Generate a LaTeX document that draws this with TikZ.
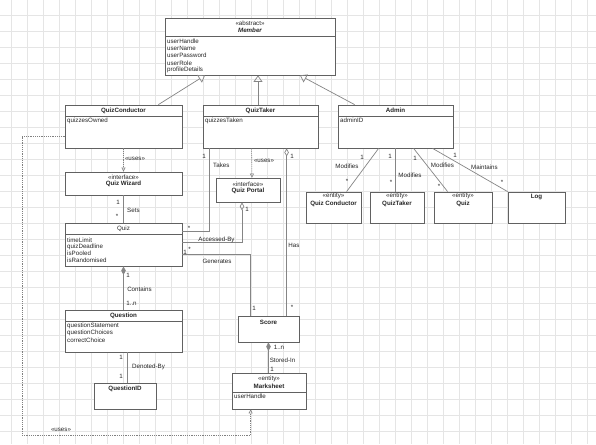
\documentclass[tikz,border=0pt]{standalone}
\usepackage{fontspec}
\setmainfont{Liberation Sans}
\usetikzlibrary{arrows.meta,fit,calc}
\begin{document}
\begin{tikzpicture}[x=1pt,y=-1pt,
  gridline/.style={draw=black!10, line width=0.6pt},
  box/.style={draw=black!62, line width=0.8pt, fill=white, inner sep=0pt},
  divider/.style={draw=black!62, line width=0.8pt},
  conn/.style={draw=black!48, line width=0.7pt},
  dep/.style={draw=black!50, line width=0.6pt, dash pattern=on 1.2pt off 1pt, -{Triangle[open,length=4pt,width=4pt]}},
  genz/.style={conn, -{Triangle[open,length=6.5pt,width=9pt]}},
  txt/.style={font=\fontsize{6.2}{7}\selectfont, inner sep=0pt, text=black!85},
  btxt/.style={font=\fontsize{6.2}{7}\selectfont\bfseries, inner sep=0pt, text=black!85},
  attr/.style={txt, anchor=west}
]
\useasboundingbox (0,0) rectangle (596,444);
\fill[white] (0,0) rectangle (596,444);
% grid
\foreach \k in {0,...,36}{\pgfmathsetmacro\gx{11.7+16*\k}\draw[gridline] (\gx,0) -- (\gx,444);}
\foreach \k in {0,...,26}{\pgfmathsetmacro\gy{15+16*\k}\draw[gridline] (0,\gy) -- (596,\gy);}

% boxes
\node[box, fit={(165,18) (335,75)}] (member) {};
\node[box, fit={(65,105) (182,148)}] (qc) {};
\node[box, fit={(203,105) (318,148)}] (qt) {};
\node[box, fit={(338,105) (453,148)}] (admin) {};
\node[box, fit={(65,172) (182,195)}] (qw) {};
\node[box, fit={(216,178) (280,202)}] (qp) {};
\node[box, fit={(65,223) (182,266)}] (quiz) {};
\node[box, fit={(65,310) (182,352)}] (question) {};
\node[box, fit={(94,383) (156,409)}] (qid) {};
\node[box, fit={(238,316) (299,342)}] (score) {};
\node[box, fit={(232,373) (306,409)}] (marks) {};
\node[box, fit={(306,192) (361,223)}] (qce) {};
\node[box, fit={(370,192) (424,223)}] (qte) {};
\node[box, fit={(434,192) (492,223)}] (qze) {};
\node[box, fit={(508,192) (565,223)}] (log) {};

% dividers
\draw[divider] (165,36) -- (335,36);
\draw[divider] (65,116) -- (182,116);
\draw[divider] (203,116) -- (318,116);
\draw[divider] (338,116) -- (453,116);
\draw[divider] (65,234) -- (182,234);
\draw[divider] (65,321) -- (182,321);
\draw[divider] (232,392) -- (306,392);

% box texts
\node[txt] (t-abs) at (250,23) {«abstract»};
\node[font=\fontsize{6.2}{7}\selectfont\bfseries\itshape, inner sep=0pt, text=black!85] (t-member) at (250,30.5) {Member};
\node[attr] (a1) at (167,41) {userHandle};
\node[attr] (a2) at (167,48.3) {userName};
\node[attr] (a3) at (167,55.6) {userPassword};
\node[attr] (a4) at (167,62.8) {userRole};
\node[attr] (a5) at (167,70) {profileDetails};

\node[btxt] (t-qc) at (123.5,110.5) {QuizConductor};
\node[attr] (a6) at (67,121) {quizzesOwned};
\node[btxt] (t-qt) at (260.5,110.5) {QuizTaker};
\node[attr] (a7) at (205,121) {quizzesTaken};
\node[btxt] (t-admin) at (395.5,110.5) {Admin};
\node[attr] (a8) at (340,120.5) {adminID};

\node[txt] (t-qwi) at (123.5,177) {«interface»};
\node[btxt] (t-qw) at (123.5,184.3) {Quiz Wizard};
\node[txt] (t-qpi) at (248,184.3) {«interface»};
\node[btxt] (t-qp) at (248,191.3) {Quiz Portal};

\node[txt] (t-quiz) at (123.5,229) {Quiz};
\node[attr] (a9) at (67,240) {timeLimit};
\node[attr] (a10) at (67,246.9) {quizDeadline};
\node[attr] (a11) at (67,253.6) {isPooled};
\node[attr] (a12) at (67,260.7) {isRandomised};

\node[btxt] (t-question) at (123.5,315.5) {Question};
\node[attr] (a13) at (67,326) {questionStatement};
\node[attr] (a14) at (67,333) {questionChoices};
\node[attr] (a15) at (67,340) {correctChoice};

\node[btxt] (t-qid) at (125,389.3) {QuestionID};
\node[btxt] (t-score) at (268.5,322.3) {Score};
\node[txt] (t-mke) at (269,379.3) {«entity»};
\node[btxt] (t-mk) at (269,386.3) {Marksheet};
\node[attr] (a16) at (234,396.5) {userHandle};

\node[txt] (t-qcee) at (333.5,196) {«entity»};
\node[btxt] (t-qce) at (333.5,204) {Quiz Conductor};
\node[txt] (t-qtee) at (397,196) {«entity»};
\node[btxt] (t-qte) at (397,204) {QuizTaker};
\node[txt] (t-qzee) at (463,196) {«entity»};
\node[btxt] (t-qze) at (463,204) {Quiz};
\node[btxt] (t-log) at (536.5,197.5) {Log};

% generalizations
\draw[genz] ([xshift=-24pt]qc.north east) -- ([xshift=-45pt]member.south);
\draw[genz] ([xshift=-2.5pt]qt.north) -- ([xshift=8pt]member.south);
\draw[genz] ([xshift=17pt]admin.north west) -- ([xshift=50pt]member.south);

% dependencies
\draw[dep] (qc.south) -- (qw.north);
\draw[dep] ([xshift=49pt]qt.south west) -- ([xshift=4pt]qp.north);
\coordinate (ucorner) at (22,435);
\draw[dep] ([yshift=-32pt]qc.north west) -| (ucorner) -| ([xshift=19pt]marks.south west);

% associations
\draw[conn] (qw.south) -- (quiz.north);
\draw[conn] ([xshift=7pt]qt.south west) |- ([yshift=-9pt]quiz.north east);
\draw[conn, -{Diamond[open,length=8pt,width=4.5pt]}] ([yshift=-20pt]quiz.north east) -| ([xshift=-6pt]qp.south);
\draw[conn] ([yshift=-32pt]quiz.north east) -| ([xshift=13pt]score.north west);
\draw[conn, {Diamond[open,length=8pt,width=4.5pt]}-] ([xshift=84pt]qt.south west) -- ([xshift=49pt]score.north west);
\draw[conn, {Diamond[length=8.5pt,width=4.5pt]}-] (quiz.south) -- (question.north);
\draw[conn] ([xshift=3.5pt]question.south) -- ([xshift=2pt]qid.north);
\draw[conn, {Diamond[length=8.5pt,width=4.5pt]}-] (score.south) -- (score.south |- marks.north);
\draw[conn] ([xshift=41pt]admin.south west) -- ([xshift=41pt]qce.north west);
\draw[conn] ([xshift=58pt]admin.south west) -- ([xshift=26pt]qte.north west);
\draw[conn] ([xshift=76pt]admin.south west) -- ([xshift=14pt]qze.north west);
\draw[conn] ([xshift=95pt]admin.south west) -- (log.north west);

% connector labels
\node[txt] (l-u1) at (135,159) {«uses»};
\node[txt] (l-u2) at (264,161) {«uses»};
\node[txt] (l-u3) at (61,430) {«uses»};
\node[txt] (l-s1) at (118,202) {1};
\node[txt] (l-s2) at (117,216) {*};
\node[txt, anchor=west] (l-sets) at (127,210) {Sets};
\node[txt] (l-t1) at (204,156) {1};
\node[txt, anchor=west] (l-takes) at (213,165) {Takes};
\node[txt] (l-t2) at (189,228.5) {*};
\node[txt] (l-acc) at (216.5,239.5) {Accessed-By};
\node[txt] (l-a1) at (247,209.5) {1};
\node[txt] (l-a2) at (189.5,249.5) {*};
\node[txt] (l-g1) at (185,252.5) {1};
\node[txt] (l-gen) at (217,261) {Generates};
\node[txt] (l-g2) at (254,308.5) {1};
\node[txt] (l-h1) at (292,156) {1};
\node[txt] (l-has) at (294,245.5) {Has};
\node[txt] (l-h2) at (292,307.5) {*};
\node[txt] (l-c1) at (128,275.5) {1};
\node[txt] (l-con) at (139.5,289.5) {Contains};
\node[txt] (l-c2) at (131.5,303.5) {1..n};
\node[txt] (l-d1) at (121,357) {1};
\node[txt] (l-den) at (148.5,366.5) {Denoted-By};
\node[txt] (l-d2) at (121,376.5) {1};
\node[txt] (l-st1) at (279,347) {1..n};
\node[txt] (l-sto) at (282.5,360.5) {Stored-In};
\node[txt] (l-st2) at (272,369.5) {1};
\node[txt] (l-m1a) at (362,157) {1};
\node[txt] (l-m1) at (347,166) {Modifies};
\node[txt] (l-m1b) at (347,181.5) {*};
\node[txt] (l-m2a) at (390,156) {1};
\node[txt] (l-m2) at (410,175) {Modifies};
\node[txt] (l-m2b) at (391,182.5) {*};
\node[txt] (l-m3a) at (415,158) {1};
\node[txt] (l-m3) at (442.5,165.5) {Modifies};
\node[txt] (l-m3b) at (439,186.5) {*};
\node[txt] (l-l1) at (455,155) {1};
\node[txt] (l-log) at (484.5,167.5) {Maintains};
\node[txt] (l-l2) at (502,182.5) {*};
\end{tikzpicture}
\end{document}
